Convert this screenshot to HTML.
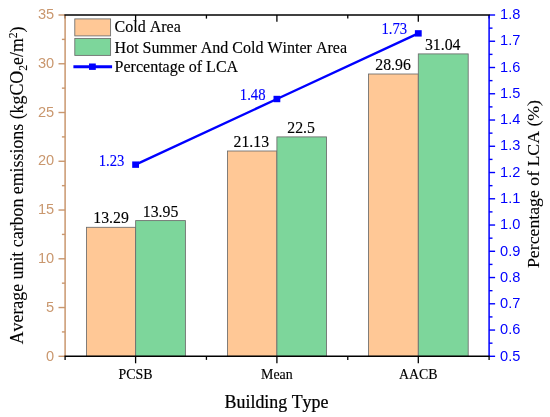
<!DOCTYPE html>
<html lang="en"><head><meta charset="utf-8"><title>Average unit carbon emissions by building type</title>
<style>html,body{margin:0;padding:0;background:#fff}svg{display:block}text{font-kerning:none;font-variant-ligatures:none}.s{font-family:"Liberation Serif",serif;stroke:#000;stroke-width:.14px}.b{stroke:#00f}.r{stroke-width:.1px}.t{stroke-width:.24px}.a{font-family:"Liberation Sans",sans-serif}</style></head><body>
<svg width="550" height="417" viewBox="0 0 550 417">
<rect width="550" height="417" fill="#fff"/>
<rect x="86.45" y="227.30" width="49.20" height="129.00" fill="#FFC896" stroke="#6c6c6c" stroke-width="0.85"/>
<rect x="135.65" y="220.60" width="49.75" height="135.70" fill="#7DD69B" stroke="#6c6c6c" stroke-width="0.85"/>
<rect x="227.50" y="151.00" width="49.40" height="205.30" fill="#FFC896" stroke="#6c6c6c" stroke-width="0.85"/>
<rect x="276.90" y="136.90" width="49.60" height="219.40" fill="#7DD69B" stroke="#6c6c6c" stroke-width="0.85"/>
<rect x="368.50" y="74.00" width="49.80" height="282.30" fill="#FFC896" stroke="#6c6c6c" stroke-width="0.85"/>
<rect x="418.30" y="53.90" width="49.90" height="302.40" fill="#7DD69B" stroke="#6c6c6c" stroke-width="0.85"/>
<line x1="65.10" y1="15.0" x2="65.10" y2="18.6" stroke="#000" stroke-width="1.3"/>
<line x1="65.10" y1="356.3" x2="65.10" y2="359.90000000000003" stroke="#000" stroke-width="1.3"/>
<line x1="206.43" y1="15.0" x2="206.43" y2="18.6" stroke="#000" stroke-width="1.3"/>
<line x1="206.43" y1="356.3" x2="206.43" y2="359.90000000000003" stroke="#000" stroke-width="1.3"/>
<line x1="347.77" y1="15.0" x2="347.77" y2="18.6" stroke="#000" stroke-width="1.3"/>
<line x1="347.77" y1="356.3" x2="347.77" y2="359.90000000000003" stroke="#000" stroke-width="1.3"/>
<line x1="489.10" y1="15.0" x2="489.10" y2="18.6" stroke="#000" stroke-width="1.3"/>
<line x1="489.10" y1="356.3" x2="489.10" y2="359.90000000000003" stroke="#000" stroke-width="1.3"/>
<line x1="135.60" y1="15.0" x2="135.60" y2="21.8" stroke="#000" stroke-width="1.3"/>
<line x1="135.60" y1="356.3" x2="135.60" y2="363.3" stroke="#000" stroke-width="1.3"/>
<line x1="276.90" y1="15.0" x2="276.90" y2="21.8" stroke="#000" stroke-width="1.3"/>
<line x1="276.90" y1="356.3" x2="276.90" y2="363.3" stroke="#000" stroke-width="1.3"/>
<line x1="418.30" y1="15.0" x2="418.30" y2="21.8" stroke="#000" stroke-width="1.3"/>
<line x1="418.30" y1="356.3" x2="418.30" y2="363.3" stroke="#000" stroke-width="1.3"/>
<line x1="65.1" y1="15.0" x2="65.1" y2="356.3" stroke="#C9976E" stroke-width="1.5"/>
<line x1="58.50" y1="356.30" x2="65.1" y2="356.30" stroke="#C9976E" stroke-width="1.4"/>
<text class="a" x="54.2" y="360.80" font-size="14.6" fill="#C9976E" text-anchor="end">0</text>
<line x1="61.90" y1="331.92" x2="65.1" y2="331.92" stroke="#C9976E" stroke-width="1.4"/>
<line x1="58.50" y1="307.54" x2="65.1" y2="307.54" stroke="#C9976E" stroke-width="1.4"/>
<text class="a" x="54.2" y="311.96" font-size="14.6" fill="#C9976E" text-anchor="end">5</text>
<line x1="61.90" y1="283.16" x2="65.1" y2="283.16" stroke="#C9976E" stroke-width="1.4"/>
<line x1="58.50" y1="258.79" x2="65.1" y2="258.79" stroke="#C9976E" stroke-width="1.4"/>
<text class="a" x="54.2" y="263.11" font-size="14.6" fill="#C9976E" text-anchor="end">10</text>
<line x1="61.90" y1="234.41" x2="65.1" y2="234.41" stroke="#C9976E" stroke-width="1.4"/>
<line x1="58.50" y1="210.03" x2="65.1" y2="210.03" stroke="#C9976E" stroke-width="1.4"/>
<text class="a" x="54.2" y="214.27" font-size="14.6" fill="#C9976E" text-anchor="end">15</text>
<line x1="61.90" y1="185.65" x2="65.1" y2="185.65" stroke="#C9976E" stroke-width="1.4"/>
<line x1="58.50" y1="161.27" x2="65.1" y2="161.27" stroke="#C9976E" stroke-width="1.4"/>
<text class="a" x="54.2" y="165.43" font-size="14.6" fill="#C9976E" text-anchor="end">20</text>
<line x1="61.90" y1="136.89" x2="65.1" y2="136.89" stroke="#C9976E" stroke-width="1.4"/>
<line x1="58.50" y1="112.51" x2="65.1" y2="112.51" stroke="#C9976E" stroke-width="1.4"/>
<text class="a" x="54.2" y="116.59" font-size="14.6" fill="#C9976E" text-anchor="end">25</text>
<line x1="61.90" y1="88.14" x2="65.1" y2="88.14" stroke="#C9976E" stroke-width="1.4"/>
<line x1="58.50" y1="63.76" x2="65.1" y2="63.76" stroke="#C9976E" stroke-width="1.4"/>
<text class="a" x="54.2" y="67.74" font-size="14.6" fill="#C9976E" text-anchor="end">30</text>
<line x1="61.90" y1="39.38" x2="65.1" y2="39.38" stroke="#C9976E" stroke-width="1.4"/>
<line x1="58.50" y1="15.00" x2="65.1" y2="15.00" stroke="#C9976E" stroke-width="1.4"/>
<text class="a" x="54.2" y="18.90" font-size="14.6" fill="#C9976E" text-anchor="end">35</text>
<line x1="489.1" y1="15.0" x2="489.1" y2="356.3" stroke="#0000FF" stroke-width="1.5"/>
<line x1="489.1" y1="356.30" x2="495.10" y2="356.30" stroke="#0000FF" stroke-width="1.4"/>
<text class="a" x="500.10" y="360.70" font-size="14.6" fill="#0000FF">0.5</text>
<line x1="489.1" y1="343.17" x2="492.50" y2="343.17" stroke="#0000FF" stroke-width="1.4"/>
<line x1="489.1" y1="330.05" x2="495.10" y2="330.05" stroke="#0000FF" stroke-width="1.4"/>
<text class="a" x="500.10" y="334.42" font-size="14.6" fill="#0000FF">0.6</text>
<line x1="489.1" y1="316.92" x2="492.50" y2="316.92" stroke="#0000FF" stroke-width="1.4"/>
<line x1="489.1" y1="303.79" x2="495.10" y2="303.79" stroke="#0000FF" stroke-width="1.4"/>
<text class="a" x="500.10" y="308.15" font-size="14.6" fill="#0000FF">0.7</text>
<line x1="489.1" y1="290.67" x2="492.50" y2="290.67" stroke="#0000FF" stroke-width="1.4"/>
<line x1="489.1" y1="277.54" x2="495.10" y2="277.54" stroke="#0000FF" stroke-width="1.4"/>
<text class="a" x="500.10" y="281.87" font-size="14.6" fill="#0000FF">0.8</text>
<line x1="489.1" y1="264.41" x2="492.50" y2="264.41" stroke="#0000FF" stroke-width="1.4"/>
<line x1="489.1" y1="251.28" x2="495.10" y2="251.28" stroke="#0000FF" stroke-width="1.4"/>
<text class="a" x="500.10" y="255.59" font-size="14.6" fill="#0000FF">0.9</text>
<line x1="489.1" y1="238.16" x2="492.50" y2="238.16" stroke="#0000FF" stroke-width="1.4"/>
<line x1="489.1" y1="225.03" x2="495.10" y2="225.03" stroke="#0000FF" stroke-width="1.4"/>
<text class="a" x="500.10" y="229.32" font-size="14.6" fill="#0000FF">1.0</text>
<line x1="489.1" y1="211.90" x2="492.50" y2="211.90" stroke="#0000FF" stroke-width="1.4"/>
<line x1="489.1" y1="198.78" x2="495.10" y2="198.78" stroke="#0000FF" stroke-width="1.4"/>
<text class="a" x="500.10" y="203.04" font-size="14.6" fill="#0000FF">1.1</text>
<line x1="489.1" y1="185.65" x2="492.50" y2="185.65" stroke="#0000FF" stroke-width="1.4"/>
<line x1="489.1" y1="172.52" x2="495.10" y2="172.52" stroke="#0000FF" stroke-width="1.4"/>
<text class="a" x="500.10" y="176.76" font-size="14.6" fill="#0000FF">1.2</text>
<line x1="489.1" y1="159.40" x2="492.50" y2="159.40" stroke="#0000FF" stroke-width="1.4"/>
<line x1="489.1" y1="146.27" x2="495.10" y2="146.27" stroke="#0000FF" stroke-width="1.4"/>
<text class="a" x="500.10" y="150.48" font-size="14.6" fill="#0000FF">1.3</text>
<line x1="489.1" y1="133.14" x2="492.50" y2="133.14" stroke="#0000FF" stroke-width="1.4"/>
<line x1="489.1" y1="120.02" x2="495.10" y2="120.02" stroke="#0000FF" stroke-width="1.4"/>
<text class="a" x="500.10" y="124.21" font-size="14.6" fill="#0000FF">1.4</text>
<line x1="489.1" y1="106.89" x2="492.50" y2="106.89" stroke="#0000FF" stroke-width="1.4"/>
<line x1="489.1" y1="93.76" x2="495.10" y2="93.76" stroke="#0000FF" stroke-width="1.4"/>
<text class="a" x="500.10" y="97.93" font-size="14.6" fill="#0000FF">1.5</text>
<line x1="489.1" y1="80.63" x2="492.50" y2="80.63" stroke="#0000FF" stroke-width="1.4"/>
<line x1="489.1" y1="67.51" x2="495.10" y2="67.51" stroke="#0000FF" stroke-width="1.4"/>
<text class="a" x="500.10" y="71.65" font-size="14.6" fill="#0000FF">1.6</text>
<line x1="489.1" y1="54.38" x2="492.50" y2="54.38" stroke="#0000FF" stroke-width="1.4"/>
<line x1="489.1" y1="41.25" x2="495.10" y2="41.25" stroke="#0000FF" stroke-width="1.4"/>
<text class="a" x="500.10" y="45.38" font-size="14.6" fill="#0000FF">1.7</text>
<line x1="489.1" y1="28.13" x2="492.50" y2="28.13" stroke="#0000FF" stroke-width="1.4"/>
<line x1="489.1" y1="15.00" x2="495.10" y2="15.00" stroke="#0000FF" stroke-width="1.4"/>
<text class="a" x="500.10" y="19.10" font-size="14.6" fill="#0000FF">1.8</text>
<line x1="64.39999999999999" y1="15.0" x2="489.8" y2="15.0" stroke="#000" stroke-width="1.4"/>
<line x1="64.39999999999999" y1="356.3" x2="489.8" y2="356.3" stroke="#000" stroke-width="1.4"/>
<polyline points="135.60,164.65 276.90,99.01 418.30,33.38" fill="none" stroke="#0000FF" stroke-width="2.4"/>
<rect x="132.20" y="161.45" width="6.8" height="6.4" fill="#0000FF"/>
<rect x="273.50" y="95.81" width="6.8" height="6.4" fill="#0000FF"/>
<rect x="414.90" y="30.18" width="6.8" height="6.4" fill="#0000FF"/>
<text class="s" x="111.05" y="223.10" font-size="15.8" text-anchor="middle">13.29</text>
<text class="s" x="160.53" y="216.60" font-size="15.8" text-anchor="middle">13.95</text>
<text class="s" x="251.30" y="146.60" font-size="15.8" text-anchor="middle">21.13</text>
<text class="s" x="301.10" y="133.00" font-size="15.8" text-anchor="middle">22.5</text>
<text class="s" x="393.10" y="69.70" font-size="15.8" text-anchor="middle">28.96</text>
<text class="s" x="442.75" y="49.70" font-size="15.8" text-anchor="middle">31.04</text>
<text class="s b" transform="translate(111.6,165.8) scale(0.885,1)" font-size="16.6" fill="#0000FF" text-anchor="middle">1.23</text>
<text class="s b" transform="translate(252.65,100.2) scale(0.885,1)" font-size="16.6" fill="#0000FF" text-anchor="middle">1.48</text>
<text class="s b" transform="translate(394.35,34.2) scale(0.885,1)" font-size="16.6" fill="#0000FF" text-anchor="middle">1.73</text>
<rect x="74.8" y="18.9" width="35.8" height="17" fill="#FFC896" stroke="#6c6c6c" stroke-width="0.85"/>
<rect x="74.8" y="38.4" width="35.8" height="17" fill="#7DD69B" stroke="#6c6c6c" stroke-width="0.85"/>
<line x1="73.4" y1="66.7" x2="112.1" y2="66.7" stroke="#0000FF" stroke-width="2.9"/>
<rect x="89.0" y="63.5" width="6.8" height="6.4" fill="#0000FF"/>
<text class="s" x="114.6" y="32.1" font-size="16">Cold Area</text>
<text class="s" x="114.6" y="52.6" font-size="16">Hot Summer And Cold Winter Area</text>
<text class="s" x="114.6" y="71.6" font-size="16">Percentage of LCA</text>
<text class="s" x="135.60" y="378.8" font-size="13.9" text-anchor="middle">PCSB</text>
<text class="s" x="276.90" y="378.8" font-size="13.9" text-anchor="middle">Mean</text>
<text class="s" x="418.30" y="378.8" font-size="13.9" text-anchor="middle">AACB</text>
<text class="s t" x="276.5" y="408.3" font-size="17.9" text-anchor="middle">Building Type</text>
<text class="s r" transform="translate(23.2,185.4) rotate(-90)" font-size="17.85" text-anchor="middle">Average unit carbon emissions (kgCO<tspan font-size="11.6" dy="3.6">2</tspan><tspan dy="-3.6">e/m</tspan><tspan font-size="11.6" dy="-6.2">2</tspan><tspan dy="6.2">)</tspan></text>
<text class="s r" transform="translate(539.2,184) rotate(-90)" font-size="17.75" text-anchor="middle">Percentage of LCA (%)</text>
</svg></body></html>
